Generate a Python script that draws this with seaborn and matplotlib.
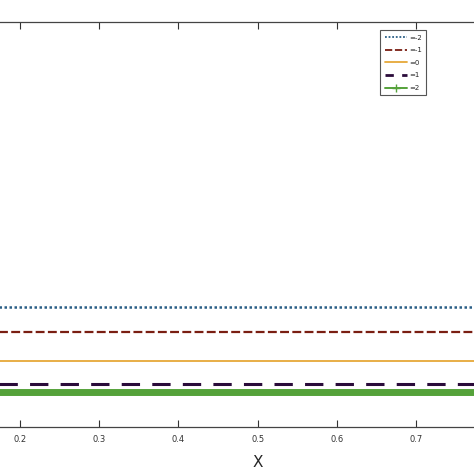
import matplotlib
matplotlib.use("Agg")
import matplotlib.pyplot as plt
from matplotlib.lines import Line2D
import seaborn as sns
import pandas as pd
import numpy as np

# constant profiles, one per parameter value
x_vals = [0.0, 1.0]
labels = ["=-2", "=-1", "=0", "=1", "=2"]
levels = [0.297, 0.235, 0.163, 0.106, 0.086]
colors = ["#2b5f86", "#7a1e12", "#e6a838", "#2a0b3a", "#55a23a"]
styles = [(0, (1, 1)), (0, (4, 1.5)), "-", (0, (6, 4)), "-"]
widths = [1.8, 1.6, 1.3, 2.2, 5.0]
markers = ["", "", "", "", "+"]
xticks = [0.2, 0.3, 0.4, 0.5, 0.6, 0.7]

sns.set_style("white")

fig = plt.figure(figsize=(4.74, 4.74), dpi=100)
ax = fig.add_axes([0.0, 1 - 427 / 474, 1.0, 405 / 474])

for lab, lev, c, ls, lw in zip(labels, levels, colors, styles, widths):
    df = pd.DataFrame({"x": x_vals, "y": [lev] * len(x_vals)})
    sns.lineplot(data=df, x="x", y="y", ax=ax, color=c, linestyle=ls,
                 linewidth=lw, legend=False)

ax.set_xlim(0.1747, 0.773)
ax.set_ylim(0, 1)
ax.set_xticks(xticks)
ax.set_xticklabels([f"{t:.1f}" for t in xticks], fontsize=6, color="#333333")
ax.set_yticks([])
ax.set_ylabel("")
ax.tick_params(axis="x", direction="in", length=5, width=0.8, top=True,
               bottom=True, pad=6, colors="#333333")
for s in ["left", "right"]:
    ax.spines[s].set_visible(False)
for s in ["top", "bottom"]:
    ax.spines[s].set_color("#444444")
    ax.spines[s].set_linewidth(0.9)
ax.set_xlabel("X", fontsize=11)
ax.xaxis.set_label_coords((258 / 474), -0.068)

handles = [Line2D([0], [0], color=c, linestyle=ls, linewidth=1.3 if mk == "" else 1.4,
                  marker=mk if mk else None, markersize=6, markeredgewidth=1.0)
           for c, ls, mk in zip(colors, styles, markers)]
handles[3].set_linestyle((0, (3, 3)))
handles[3].set_linewidth(2.0)
leg = ax.legend(handles, labels, loc="upper left",
                bbox_to_anchor=(377 / 474, (427 - 27) / 405),
                fontsize=5, frameon=True, handlelength=3.2, handletextpad=0.3,
                borderpad=0.6, labelspacing=0.95, fancybox=False,
                edgecolor="#555555", framealpha=1)
leg.get_frame().set_linewidth(0.8)

fig.savefig("out.png", dpi=100)
